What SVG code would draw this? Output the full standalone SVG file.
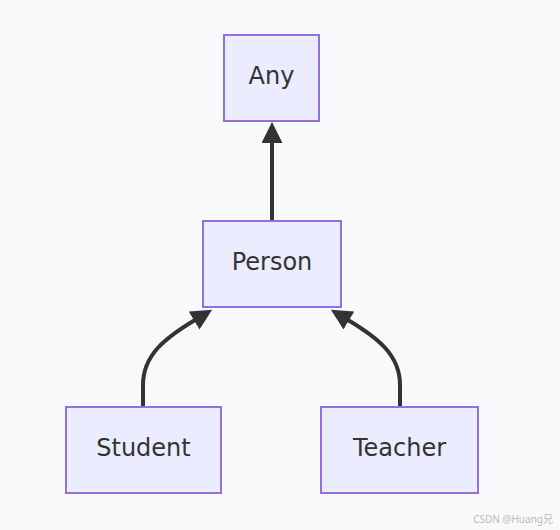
<svg xmlns="http://www.w3.org/2000/svg" width="560" height="530" viewBox="0 0 560 530">
<style>
.node rect{fill:#ECECFF;stroke:#9370DB;stroke-width:2}
.node text{font-family:"DejaVu Sans",sans-serif;font-size:24px;fill:#333;text-anchor:middle}
.edge{fill:none;stroke:#333;stroke-width:4}
.wm{font-family:"Noto Sans","Noto Sans CJK SC",sans-serif;font-size:10px;fill:#bbb}
</style>
<defs>
<marker id="ah" viewBox="0 0 10 10" refX="0.5" refY="5" markerWidth="21" markerHeight="21" markerUnits="userSpaceOnUse" orient="auto">
<path d="M0,0 L10,5 L0,10 z" fill="#333"/>
</marker>
</defs>
<rect width="560" height="530" fill="#f8f9fa"/>
<g id="edges">
<path class="edge" d="M272,221 L272,142" marker-end="url(#ah)"/>
<path class="edge" d="M143,407 L143,385 C143,355 165,338 195,320" marker-end="url(#ah)"/>
<path class="edge" d="M400,407 L400,385 C400,355 378,338 348,320" marker-end="url(#ah)"/>
</g>
<g id="Any" class="node"><rect x="224" y="35" width="95" height="86"/><text x="271.5" y="84">Any</text></g>
<g id="Person" class="node"><rect x="203" y="221" width="138" height="86"/><text x="272" y="270">Person</text></g>
<g id="Student" class="node"><rect x="66" y="407" width="155" height="86"/><text x="143.5" y="456">Student</text></g>
<g id="Teacher" class="node"><rect x="321" y="407" width="157" height="86"/><text x="399.5" y="456">Teacher</text></g>
<text class="wm" x="553" y="523" text-anchor="end">CSDN @Huang兄</text>
</svg>
